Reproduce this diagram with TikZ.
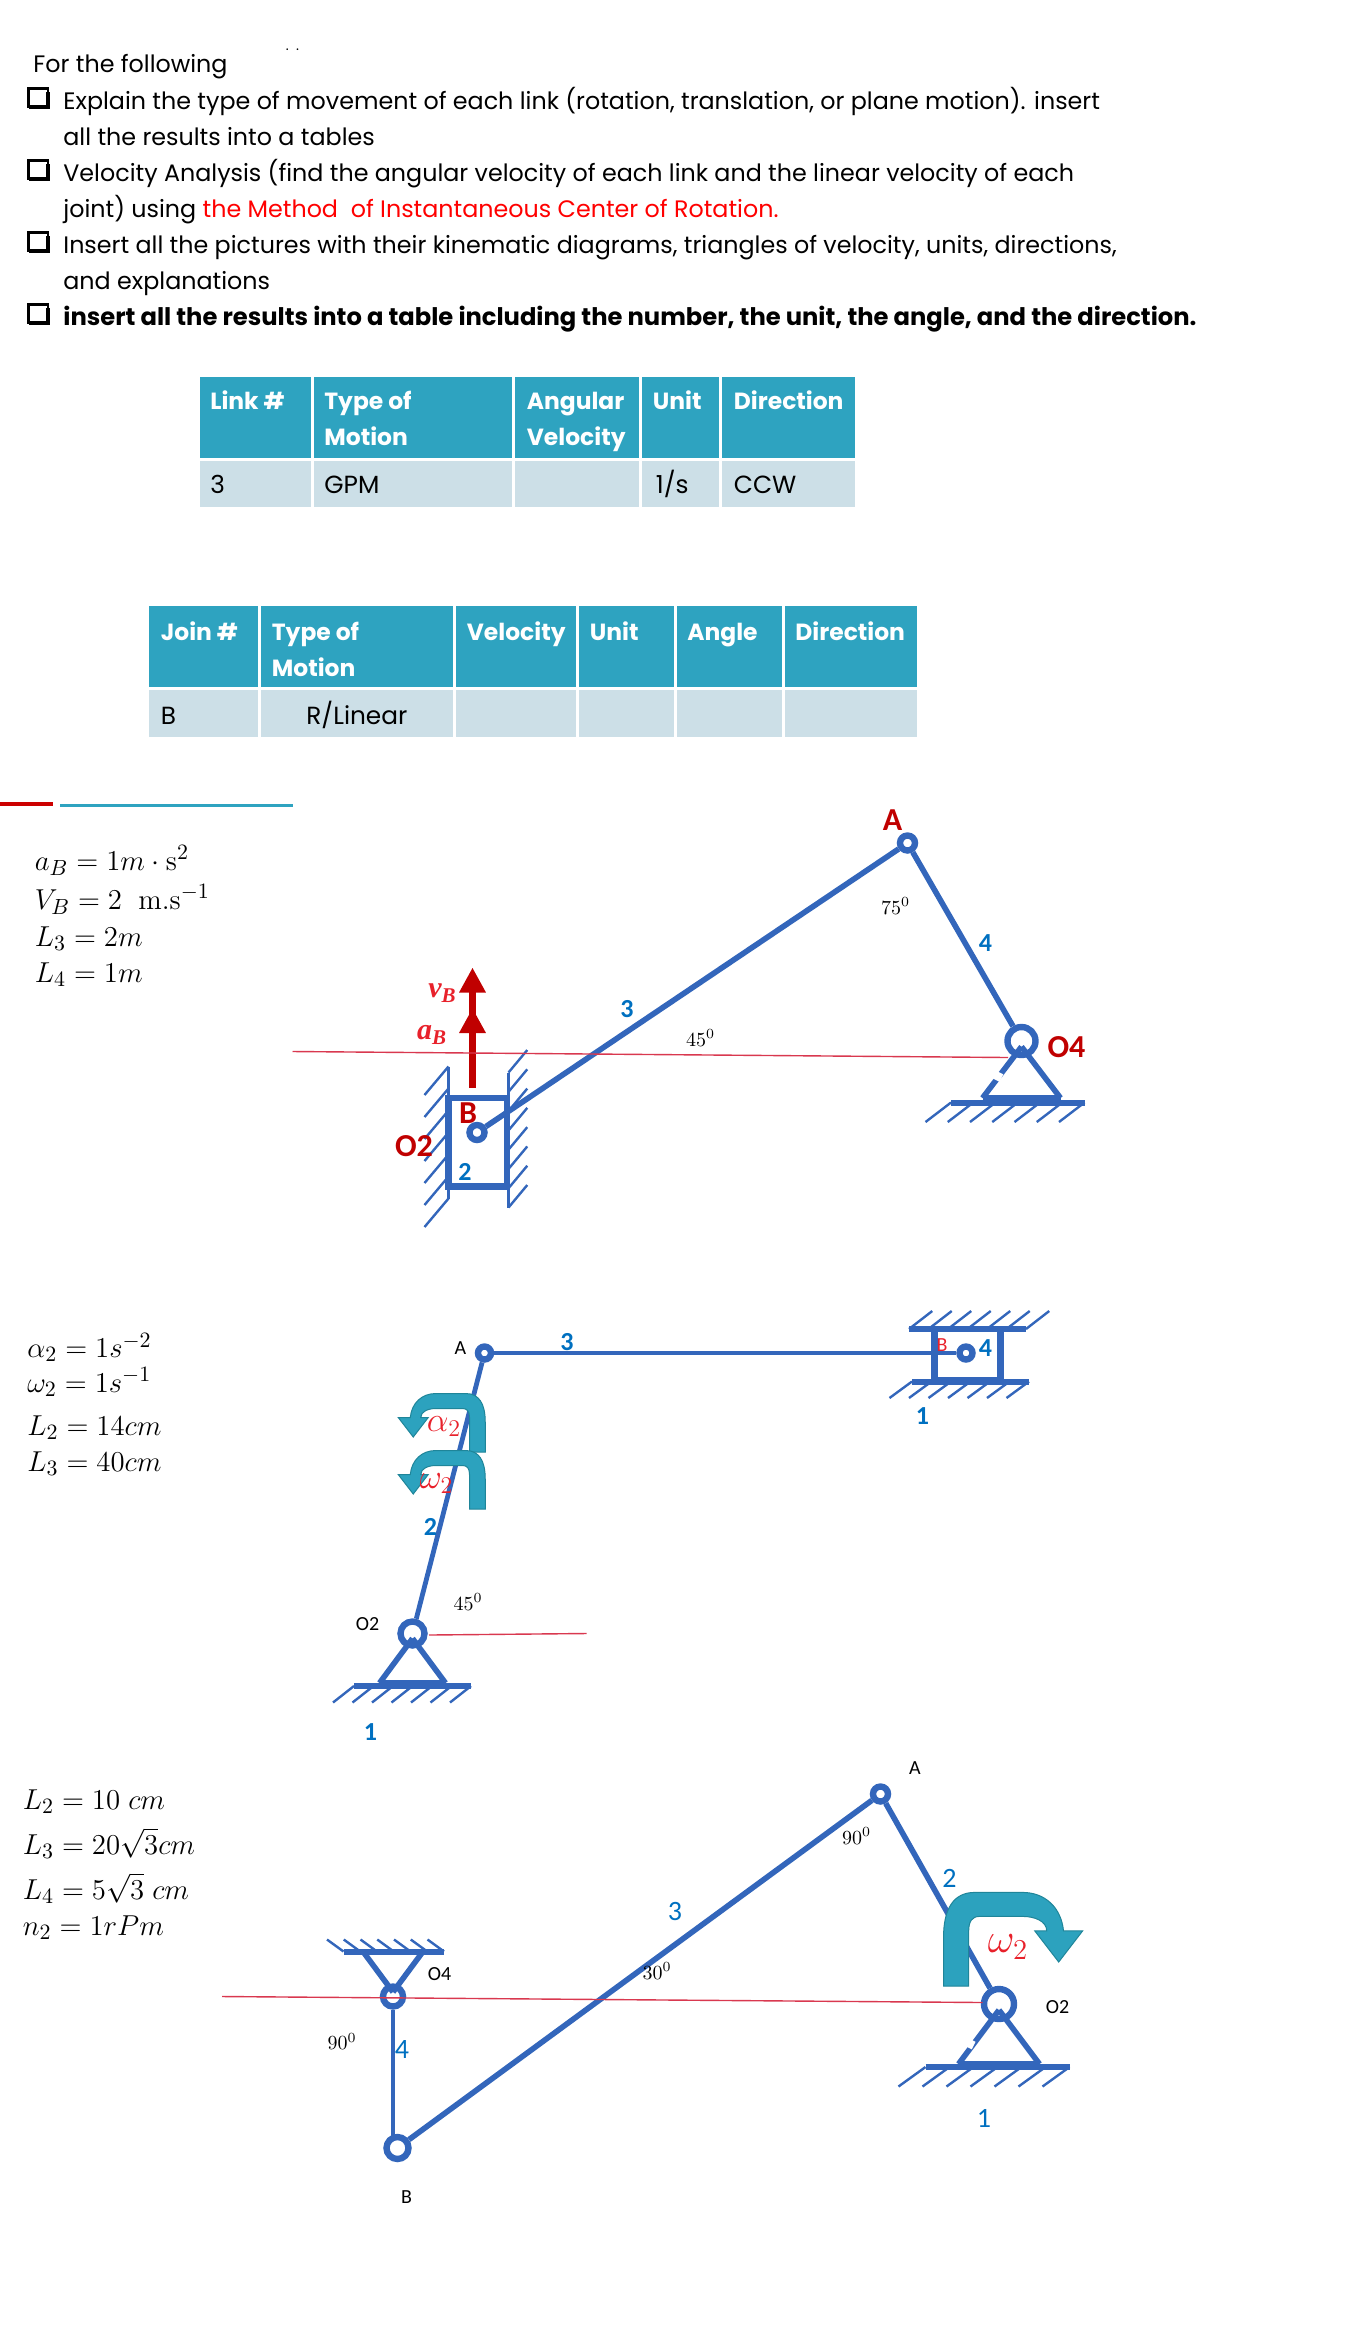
\documentclass[tikz,border=0pt]{standalone}
\usepackage{amsmath}
\usepackage[no-math]{fontspec}
\setmainfont{Poppins}
\newfontfamily\labfont{Carlito}
\newfontfamily\symfont{Liberation Serif}
\usetikzlibrary{arrows.meta,positioning}
\definecolor{lnkblue}{HTML}{3366BB}
\definecolor{numblue}{HTML}{0070C0}
\definecolor{darkred}{HTML}{C00000}
\definecolor{mathred}{HTML}{E8212B}
\definecolor{headteal}{HTML}{2EA3C0}
\definecolor{rowblue}{HTML}{CCDFE7}
\definecolor{turnteal}{HTML}{2CA2BE}
\definecolor{turnedge}{HTML}{1F8599}
\definecolor{hline}{HTML}{D9384F}

\begin{document}
\begin{tikzpicture}[
    x=0.75pt,
    y=-0.75pt,
    body/.style ={anchor=base west, inner sep=0pt, font=\fontsize{11.9}{13}\selectfont},
    hdr/.style ={fill=headteal},
    cell/.style ={fill=rowblue},
    hcell/.style ={anchor=base west, inner sep=0pt, text=white, font=\bfseries\fontsize{11.7}{13}\selectfont},
    rcell/.style ={anchor=base west, inner sep=0pt, font=\fontsize{12.4}{14}\selectfont},
    eqn/.style ={anchor=base west, inner sep=0pt, font=\fontsize{15.2}{17}\selectfont},
    bar/.style ={draw=lnkblue, line width=3pt},
    hatch/.style ={draw=lnkblue, line width=1.2pt},
    lnk/.style ={draw=lnkblue, line width=#1},
    lnk/.default=2.8pt,
    ring/.style ={circle, draw=lnkblue, fill=white, line width=3.2pt, inner sep=0pt, minimum size=#1},
    hori/.style ={draw=hline, line width=0.7pt},
    vel/.style ={draw=darkred, line width=3.8pt, -{Triangle[width=12.5pt,length=12.5pt]}},
    num/.style ={inner sep=0pt, text=numblue, font=\labfont\bfseries\fontsize{13}{15}\selectfont},
    numthin/.style ={inner sep=0pt, text=numblue, font=\labfont\fontsize{14}{16}\selectfont},
    tag/.style ={inner sep=0pt, text=darkred, font=\labfont\bfseries\fontsize{16}{18}\selectfont},
    small/.style ={inner sep=0pt, font=\labfont\fontsize{10}{12}\selectfont},
    ang/.style ={inner sep=0pt, font=\fontsize{10.2}{12}\selectfont},
    sym/.style ={inner sep=0pt, text=mathred, font=\fontsize{#1}{#1}\selectfont},
    kin/.style ={inner sep=0pt, text=mathred, font=\symfont\bfseries\itshape\fontsize{15}{15}\selectfont},
    pics/chk/.style ={
        code={
            \draw[line width=1.1pt] (0,0) rectangle (13,12);
            \draw[line width=2pt] (0,12) -- (13,12) -- (13,2);
        }
    },
    pics/grnd/.style args={#1/#2/#3/#4}{
        code={
            \draw[bar] (0,0) -- (#1,0);
            \foreach \i in {1,...,#2} {
                \draw[hatch] ({(\i-1)*#1/(#2-1)},0) -- ++(#3,#4);
            }
        }
    },
    pics/wall/.style args={#1/#2/#3/#4}{
        code={
            \draw[hatch, line width=1.6pt] (0,0) -- (0,#1);
            \foreach \i in {1,...,#2} {
                \draw[hatch] (0,{(\i-1)*#1/(#2-1)}) -- ++(#3,#4);
            }
        }
    },
    pics/pivot/.style args={#1/#2}{
        code={
            \draw[lnk] (0,{0.1*#2}) -- (-#1,#2);
            \draw[lnk] (0,{0.1*#2}) -- (#1,#2);
            \draw[bar] (-#1,#2) -- (#1,#2);
        }
    },
    pics/turn/.style ={
        code={
            \draw[fill=turnteal, draw=turnedge, line width=0.5pt]
                (0,0) -- (0,-20)
                .. controls (0,-32) and (-4,-39) .. (-13,-39) -- (-33,-39)
                .. controls (-42,-39) and (-49,-33) .. (-50,-23)
                -- (-58,-23) -- (-48,-10) -- (-38,-23) -- (-43,-23)
                .. controls (-43,-27) and (-38,-29) .. (-33,-29) -- (-15,-29)
                .. controls (-12,-29) and (-10.5,-27) .. (-10.5,-23) -- (-10.5,0) -- cycle;
        }
    }
    ]
    \useasboundingbox (0,0) rectangle (912,1568);

    % task text
    \node[body] (l0) at (22,48) {For the following};
    \node[inner sep=0pt, font=\fontsize{7}{8}\selectfont] (dots) at (195,33) {.\ \ .};
    \pic at (19,59) {chk};
    \node[body] (l1) at (42,73) {Explain the type of movement of each link (rotation, translation, or plane motion). insert};
    \node[body] (l2) at (42,97) {all the results into a tables};
    \pic at (19,107) {chk};
    \node[body] (l3) at (42,121) {Velocity Analysis (find the angular velocity of each link and the linear velocity of each};
    \node[body] (l4) at (42,145) {joint) using \textcolor{red}{the Method\ \ of Instantaneous Center of Rotation.}};
    \pic at (19,155) {chk};
    \node[body] (l5) at (42,169) {Insert all the pictures with their kinematic diagrams, triangles of velocity, units, directions,};
    \node[body] (l6) at (42,193) {and explanations};
    \pic at (19,203) {chk};
    \node[body, font=\bfseries\fontsize{12.1}{13}\selectfont] (l7) at (42,217) {insert all the results into a table including the number, the unit, the angle, and the direction.};

    % link table
    \foreach \xa/\xb in {133/207, 209/341, 343/426, 428/479, 481/570} {
        \fill[hdr] (\xa,251) rectangle (\xb,305);
        \fill[cell] (\xa,307) rectangle (\xb,338);
    }
    \node[hcell] (ta1) at (140,273) {Link \#};
    \node[hcell] (ta2) at (216,273) {Type of};
    \node[hcell] (ta3) at (216,297) {Motion};
    \node[hcell] (ta4) at (351,273) {Angular};
    \node[hcell] (ta5) at (351,297) {Velocity};
    \node[hcell] (ta6) at (435,273) {Unit};
    \node[hcell] (ta7) at (489,273) {Direction};
    \node[rcell] (ta8) at (140,329) {3};
    \node[rcell] (ta9) at (216,329) {GPM};
    \node[rcell] (ta10) at (437,329) {1/s};
    \node[rcell] (ta11) at (489,329) {CCW};

    % joint table
    \foreach \xa/\xb in {99/172, 174/302, 304/384, 386/449, 451/521, 523/611} {
        \fill[hdr] (\xa,404) rectangle (\xb,458);
        \fill[cell] (\xa,460) rectangle (\xb,491);
    }
    \node[hcell] (tb1) at (107,427) {Join \#};
    \node[hcell] (tb2) at (181,427) {Type of};
    \node[hcell] (tb3) at (181,451) {Motion};
    \node[hcell] (tb4) at (311,427) {Velocity};
    \node[hcell] (tb5) at (393,427) {Unit};
    \node[hcell] (tb6) at (458,427) {Angle};
    \node[hcell] (tb7) at (530,427) {Direction};
    \node[rcell] (tb8) at (107,483) {B};
    \node[rcell] (tb9) at (204,483) {R/Linear};

    \draw[draw=red!80!black, line width=1.7pt] (0,536) -- (35,536);
    \draw[draw=headteal, line width=1.7pt] (40,537) -- (195,537);

    % first mechanism
    \node[eqn] (e1) at (23,580) {$a_B = 1m\cdot\mathrm{s}^2$};
    \node[eqn] (e2) at (23,606) {$V_B = 2\ \ \mathrm{m.s}^{-1}$};
    \node[eqn] (e3) at (23,631) {$L_3 = 2m$};
    \node[eqn] (e4) at (23,655) {$L_4 = 1m$};

    \node[ring=7.5pt] (A1) at (605,562) {};
    \node[ring=14pt] (O41) at (681,694) {};
    \node[ring=7.5pt] (B1) at (318,755) {};
    \coordinate (h1a) at (195,701);
    \coordinate (h1b) at (672,705);
    \coordinate (v1) at (315,725);
    \coordinate (v2) at (315,645);
    \coordinate (v3) at (315,672);
    \draw[lnk] (B1) -- (A1);
    \draw[lnk] (A1) -- (O41);
    \draw[bar, line width=3.4pt] (299,732) rectangle (338,791);
    \pic at (299,711) {wall=88/7/-16/19};
    \pic at (339,715) {wall=90/8/12.5/-15};
    \pic at (681,694) {pivot=26/38};
    \draw[draw=white, line width=4pt] (666.5,715) -- (664,720);
    \pic at (634,735) {grnd=89/7/-17/13};
    \draw[vel] (v1) -- (v2);
    \draw[vel] (v1) -- (v3);
    \draw[hori] (h1a) -- (h1b);
    \node[kin] (vb) at (295,662) {v\textsubscript{B}};
    \node[kin] (ab) at (288,690) {a\textsubscript{B}};
    \node[tag] (tA1) at (595,547) {A};
    \node[tag] (tO41) at (711,698) {O4};
    \node[tag] (tB1) at (312,742) {B};
    \node[tag] (tO21) at (276,764) {O2};
    \node[num] (n21) at (310,781) {2};
    \node[num] (n31) at (418,673) {3};
    \node[num] (n41) at (657,629) {4};
    \node[ang] (an1) at (597,604) {$75^{0}$};
    \node[ang] (an2) at (467,692) {$45^{0}$};

    % second mechanism
    \node[eqn] (f1) at (18,905) {$\alpha_2 = 1s^{-2}$};
    \node[eqn] (f2) at (18,928) {$\omega_2 = 1s^{-1}$};
    \node[eqn] (f3) at (18,957) {$L_2 = 14cm$};
    \node[eqn] (f4) at (18,981) {$L_3 = 40cm$};

    \node[ring=6.5pt] (A2) at (323,902) {};
    \node[ring=12pt] (O22) at (275,1089) {};
    \node[ring=6.5pt] (B2) at (644,902) {};
    \coordinate (h2a) at (286,1090);
    \coordinate (h2b) at (391,1089);
    \draw[lnk=2.4pt] (O22) -- (A2);
    \draw[lnk=2.4pt] (A2) -- (B2);
    \draw[bar, line width=3.4pt] (623,886) rectangle (667,920);
    \pic at (606,886) {grnd=78/7/15.5/-12};
    \pic at (608,921) {grnd=78/7/-15/11};
    \pic at (275,1089) {pivot=22/33};
    \pic at (236,1124) {grnd=78/7/-14/11};
    \draw[hori] (h2a) -- (h2b);
    \pic at (323.5,968) {turn};
    \pic at (323.5,1006) {turn};
    \node[sym=17] (al2) at (296,951) {$\alpha_2$};
    \node[sym=17] (om2) at (291,989) {$\omega_2$};
    \node[small] (tA2) at (307,899) {A};
    \node[small, text=mathred] (tB2) at (628,897) {B};
    \node[small] (tO22) at (245,1083) {O2};
    \node[num] (n32) at (378,895) {3};
    \node[num] (n42) at (657,899) {4};
    \node[num] (n22) at (287,1018) {2};
    \node[num] (n12) at (615,944) {1};
    \node[num] (n13) at (247,1155) {1};
    \node[ang] (an3) at (312,1068) {$45^{0}$};

    % third mechanism
    \node[eqn] (g1) at (15,1206) {$L_2 = 10\ cm$};
    \node[eqn] (g2) at (15,1236) {$L_3 = 20\sqrt{3}cm$};
    \node[eqn] (g3) at (15,1266) {$L_4 = 5\sqrt{3}\ cm$};
    \node[eqn] (g4) at (15,1290) {$n_2 = 1rPm$};

    \node[ring=7.5pt] (A3) at (587,1196) {};
    \node[ring=15pt] (O23) at (666,1336) {};
    \node[ring=10pt] (O43) at (262,1331) {};
    \node[ring=11pt] (B3) at (265,1432) {};
    \coordinate (B3t) at (262,1424);
    \coordinate (h3a) at (148,1331);
    \coordinate (h3b) at (655,1335);
    \draw[lnk] (B3) -- (A3);
    \draw[lnk] (A3) -- (O23);
    \draw[lnk=2.4pt] (O43) -- (B3t);
    \pic at (666,1336) {pivot=27/40};
    \draw[draw=white, line width=4pt] (648,1360) -- (645.5,1365);
    \pic at (617,1378) {grnd=96/7/-18/13};
    \pic at (262,1331) {pivot=20/-30};
    \pic at (229,1301) {grnd=67/7/-11/-8};
    \draw[hori] (h3a) -- (h3b);
    \pic[xscale=-1.6, yscale=1.6] at (629,1324) {turn};
    \node[sym=20] (om3) at (672,1298) {$\omega_2$};
    \node[small] (tA3) at (610,1179) {A};
    \node[small] (tB3) at (271,1465) {B};
    \node[small] (tO23) at (705,1338) {O2};
    \node[small] (tO43) at (293,1316) {O4};
    \node[numthin] (n23) at (633,1252) {2};
    \node[numthin] (n33) at (450,1274) {3};
    \node[numthin] (n43) at (268,1366) {4};
    \node[numthin] (n14) at (656,1412) {1};
    \node[ang] (an4) at (571,1224) {$90^{0}$};
    \node[ang] (an5) at (438,1314) {$30^{0}$};
    \node[ang] (an6) at (228,1361) {$90^{0}$};
\end{tikzpicture}
\end{document}
